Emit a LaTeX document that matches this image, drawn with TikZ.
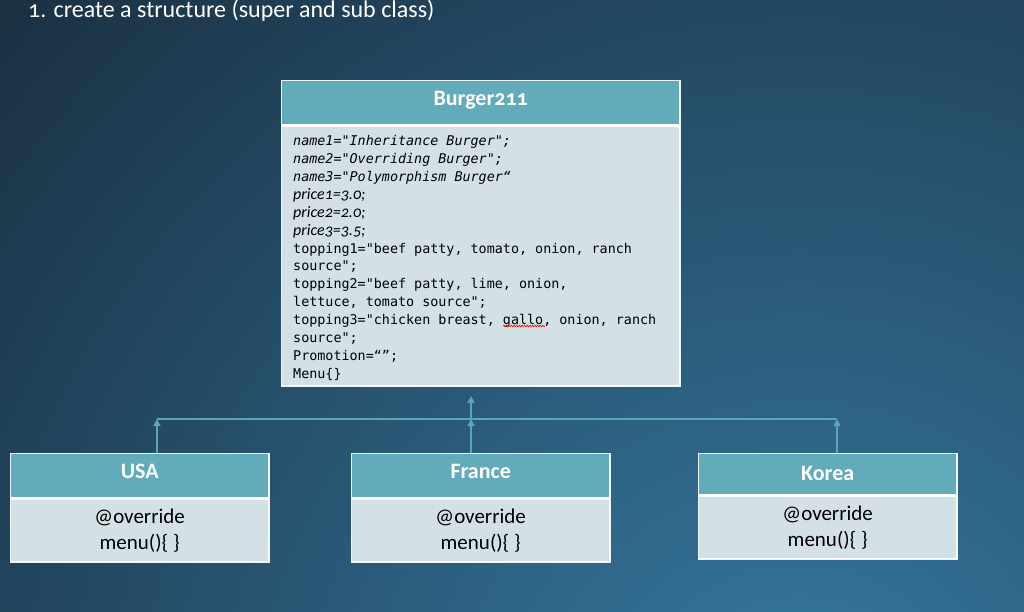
\documentclass[tikz,border=0pt]{standalone}
\usepackage{fontspec}
\setmainfont{Carlito}[Numbers=OldStyle]
\newfontfamily\codefont{DejaVu Sans Mono}
\usetikzlibrary{arrows.meta,decorations.pathmorphing}
\definecolor{bgin}{RGB}{54,122,162}
\definecolor{bgout}{RGB}{26,48,66}
\definecolor{headc}{HTML}{62ABBB}
\definecolor{bodyc}{HTML}{D3E1E6}
\definecolor{arrc}{HTML}{5AA6B6}
\definecolor{edgec}{HTML}{EEF4F6}
\pgfdeclareradialshading{bgrad}{\pgfpoint{0bp}{0bp}}{color(0bp)=(bgin); color(25bp)=(bgout); color(50bp)=(bgout)}
\newcommand\pricef{\rmfamily\itshape\fontsize{16}{17.86}\selectfont}
\begin{document}
\begin{tikzpicture}[x=1pt,y=-1pt,
  outerbox/.style={draw=edgec,fill=white,line width=1pt,inner sep=0pt,anchor=north west},
  headbox/.style={fill=headc,inner sep=0pt,anchor=north west,text=white,
    font=\fontsize{22}{26}\selectfont\bfseries,text height=14.2pt,text depth=8pt},
  bodybox/.style={fill=bodyc,inner sep=0pt,anchor=north west,align=center,
    font=\fontsize{21}{26}\selectfont},
  busline/.style={draw=arrc,line width=1.2pt},
  arr/.style={draw=arrc,line width=1.2pt,-{Triangle[length=7pt,width=7pt]}},
  codetext/.style={anchor=north west,inner sep=0pt,align=left,
    font=\codefont\fontsize{13.4}{17.86}\selectfont},
  squiggle/.style={draw=red,line width=0.6pt,decorate,
    decoration={snake,amplitude=0.8pt,segment length=2.6pt}}
]
\useasboundingbox (0,0) rectangle (1024,612);
\begin{scope}
  \clip (0,0) rectangle (1024,612);
  \shade[shading=bgrad] (800,750) circle (1100pt);
\end{scope}

% title
\node[anchor=base west,inner sep=0pt,text=white,font=\fontsize{24}{28}\selectfont] (title) at (28,18)
  {1. create a structure (super and sub class)};

% super class
\node[outerbox,minimum width=399pt,minimum height=306pt] (burger) at (281,80) {};
\node[headbox,minimum width=397pt,minimum height=43pt] (burgerH) at (282,81) {Burger211};
\node[bodybox,minimum width=397pt,minimum height=258pt] (burgerB) at (282,127) {};
\node[codetext] (burgerT) at (293,135.5) {%
{\itshape name1="Inheritance Burger";}\\
{\itshape name2="Overriding Burger";}\\
{\itshape name3="Polymorphism Burger“}\\
{\pricef price1=3.0;}\\
{\pricef price2=2.0;}\\
{\pricef price3=3.5;}\\
topping1="beef patty, tomato, onion, ranch\\
source";\\
topping2="beef patty, lime, onion,\\
lettuce, tomato source";\\
topping3="chicken breast, gallo, onion, ranch\\
source";\\
Promotion=“”;\\
Menu\{\}};
\draw[squiggle] (503,326) -- (545,326);

% sub classes
\node[outerbox,minimum width=259pt,minimum height=109pt] (usa) at (10,453) {};
\node[headbox,minimum width=257pt,minimum height=43pt] (usaH) at (11,454) {USA};
\node[bodybox,minimum width=257pt,minimum height=61pt] (usaB) at (11,500) {@override\\menu()\{ \}};

\node[outerbox,minimum width=259pt,minimum height=109pt] (france) at (351,453) {};
\node[headbox,minimum width=257pt,minimum height=43pt] (franceH) at (352,454) {France};
\node[bodybox,minimum width=257pt,minimum height=61pt] (franceB) at (352,500) {@override\\menu()\{ \}};

\node[outerbox,minimum width=259pt,minimum height=106pt] (korea) at (698,453) {};
\node[headbox,minimum width=257pt,minimum height=40pt,text depth=0.8pt] (koreaH) at (699,454) {Korea};
\node[bodybox,minimum width=257pt,minimum height=61pt] (koreaB) at (699,497) {@override\\menu()\{ \}};

% connectors
\coordinate (busU) at (157,419);
\coordinate (busF) at (471,419);
\coordinate (busK) at (837,419);
\draw[busline] (busU) -- (busK);
\draw[arr] (usa.north -| busU) -- (busU);
\draw[arr] (france.north -| busF) -- (busF);
\draw[arr] (korea.north -| busK) -- (busK);
\draw[arr,shorten >=9pt] (busF) -- (burger.south -| busF);
\end{tikzpicture}
\end{document}
